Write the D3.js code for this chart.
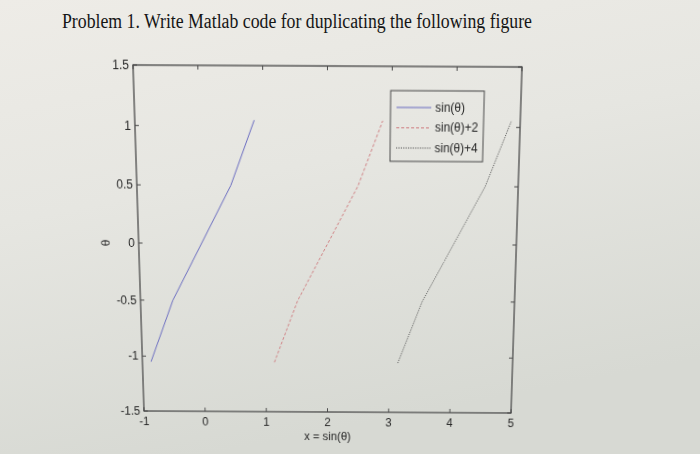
<!doctype html>
<html>
<head>
<meta http-equiv="Content-type" content="text/html; charset=utf-8"/>
<script src="https://d3js.org/d3.v7.min.js"></script>
<style>
    html, body { margin: 0; padding: 0; }
    body { width: 700px; height: 454px; overflow: hidden; position: relative; }
    #page { position: absolute; left: 0; top: 0; }
    #fig { position: absolute; left: 0; top: 0; width: 700px; height: 454px; transform-origin: 0 0; }
    text { font-family: "Liberation Sans", Arial, sans-serif; }
</style>
</head>
<body>
<svg id="page" width="700" height="454"></svg>
<div id="fig"><svg width="700" height="454"></svg></div>
<script>
// data
var theta    = [-1.05, -0.5, 0, 0.5, 1.05];
var sinVals  = [-0.86, -0.48, 0, 0.48, 0.86];
var sinPlus2 = [1.14, 1.52, 2, 2.48, 2.86];
var sinPlus4 = [3.14, 3.52, 4, 4.48, 4.86];
var xTicks = [-1, 0, 1, 2, 3, 4, 5];
var yTicks = [-1.5, -1, -0.5, 0, 0.5, 1, 1.5];
var legendLabels = ["sin(\u03b8)", "sin(\u03b8)+2", "sin(\u03b8)+4"];

// page background (photo of a sheet)
var page = d3.select("#page");
var defs = page.append("defs");
var grad = defs.append("linearGradient").attr("id", "paper")
    .attr("x1", 0).attr("y1", 0).attr("x2", 0.3).attr("y2", 1);
grad.append("stop").attr("offset", "0%").attr("stop-color", "#eeece7");
grad.append("stop").attr("offset", "45%").attr("stop-color", "#e6e6e1");
grad.append("stop").attr("offset", "100%").attr("stop-color", "#d7d9d3");
page.append("rect").attr("width", 700).attr("height", 454).attr("fill", "url(#paper)");

page.append("text")
    .attr("x", 62).attr("y", 28)
    .attr("textLength", 470).attr("lengthAdjust", "spacingAndGlyphs")
    .style("font-family", "'Liberation Serif', 'Times New Roman', serif")
    .style("font-size", "20px")
    .attr("fill", "#151515")
    .text("Problem 1. Write Matlab code for duplicating the following figure");

// figure, drawn flat then warped to the photographed quad
var x0 = 133, y0 = 65, x1 = 522, y1 = 411;
var svg = d3.select("#fig svg");

var x = d3.scaleLinear().domain([-1, 5]).range([x0, x1]);
var y = d3.scaleLinear().domain([-1.5, 1.5]).range([y1, y0]);

var axisCol = "#4a4a4a";
var txtCol = "#262626";
var g = svg.append("g");

// ticks inside, all four sides
var tl = 4;
xTicks.forEach(function(t) {
    g.append("line").attr("x1", x(t)).attr("x2", x(t)).attr("y1", y1).attr("y2", y1 - tl)
        .attr("stroke", axisCol).attr("stroke-width", 1);
    g.append("line").attr("x1", x(t)).attr("x2", x(t)).attr("y1", y0).attr("y2", y0 + tl)
        .attr("stroke", axisCol).attr("stroke-width", 1);
    g.append("text").attr("x", x(t)).attr("y", y1 + 15)
        .attr("text-anchor", "middle").style("font-size", "12px").attr("fill", txtCol)
        .text(t);
});
yTicks.forEach(function(t) {
    g.append("line").attr("x1", x0).attr("x2", x0 + tl).attr("y1", y(t)).attr("y2", y(t))
        .attr("stroke", axisCol).attr("stroke-width", 1);
    g.append("line").attr("x1", x1).attr("x2", x1 - tl).attr("y1", y(t)).attr("y2", y(t))
        .attr("stroke", axisCol).attr("stroke-width", 1);
    g.append("text").attr("x", x0 - 4).attr("y", y(t) + 4)
        .attr("text-anchor", "end").style("font-size", "12px").attr("fill", txtCol)
        .text(t);
});

g.append("rect").attr("x", x0).attr("y", y0).attr("width", x1 - x0).attr("height", y1 - y0)
    .attr("fill", "none").attr("stroke", axisCol).attr("stroke-width", 1.3);

// axis labels
g.append("text").attr("x", (x0 + x1) / 2).attr("y", y1 + 30)
    .attr("text-anchor", "middle").style("font-size", "12px").attr("fill", txtCol)
    .text("x = sin(\u03b8)");
g.append("text").attr("transform", "translate(" + (x0 - 30) + "," + ((y0 + y1) / 2) + ") rotate(-90)")
    .attr("text-anchor", "middle").style("font-size", "12px").attr("fill", txtCol)
    .text("\u03b8");

// series
var series = [
    {vals: sinVals,  color: "#6a6cc0", dash: null,      w: 1},
    {vals: sinPlus2, color: "#cf7f82", dash: "3,2",     w: 1},
    {vals: sinPlus4, color: "#5a5a5a", dash: "1.2,1.2", w: 1}
];
var line = d3.line()
    .x(function(d) { return x(d[0]); })
    .y(function(d) { return y(d[1]); });

series.forEach(function(s) {
    g.append("path")
        .datum(d3.zip(s.vals, theta))
        .attr("d", line)
        .attr("fill", "none")
        .attr("stroke", s.color)
        .attr("stroke-width", s.w)
        .attr("stroke-dasharray", s.dash);
});

// legend
var lx = 391, ly = 88, lw = 94, lh = 68;
var leg = g.append("g");
leg.append("rect").attr("x", lx).attr("y", ly).attr("width", lw).attr("height", lh)
    .attr("fill", "none").attr("stroke", axisCol).attr("stroke-width", 1);
series.forEach(function(s, i) {
    var yy = ly + 16 + i * 19.5;
    leg.append("line").attr("x1", lx + 6).attr("x2", lx + 41).attr("y1", yy).attr("y2", yy)
        .attr("stroke", s.color).attr("stroke-width", s.w).attr("stroke-dasharray", s.dash);
    leg.append("text").attr("x", lx + 45).attr("y", yy + 4)
        .style("font-size", "12px").attr("fill", txtCol)
        .text(legendLabels[i]);
});

// projective warp: rectangle corners -> photographed corners
function homography(src, dst) {
    var A = [], b = [];
    for (var i = 0; i < 4; i++) {
        var sx = src[i][0], sy = src[i][1], u = dst[i][0], v = dst[i][1];
        A.push([sx, sy, 1, 0, 0, 0, -sx * u, -sy * u]); b.push(u);
        A.push([0, 0, 0, sx, sy, 1, -sx * v, -sy * v]); b.push(v);
    }
    var n = 8;
    for (var c = 0; c < n; c++) {
        var p = c;
        for (var r = c + 1; r < n; r++) if (Math.abs(A[r][c]) > Math.abs(A[p][c])) p = r;
        var tmp = A[c]; A[c] = A[p]; A[p] = tmp;
        var tb = b[c]; b[c] = b[p]; b[p] = tb;
        for (var r2 = 0; r2 < n; r2++) {
            if (r2 === c) continue;
            var f = A[r2][c] / A[c][c];
            for (var k = c; k < n; k++) A[r2][k] -= f * A[c][k];
            b[r2] -= f * b[c];
        }
    }
    return b.map(function(v, i) { return v / A[i][i]; });
}
var h = homography(
    [[x0, y0], [x1, y0], [x1, y1], [x0, y1]],
    [[133, 65], [522, 67], [511, 413], [144, 411]]
);
var m = [h[0], h[3], 0, h[6],
         h[1], h[4], 0, h[7],
         0, 0, 1, 0,
         h[2], h[5], 0, 1];
d3.select("#fig").style("transform", "matrix3d(" + m.join(",") + ")");
</script>
</body>
</html>
